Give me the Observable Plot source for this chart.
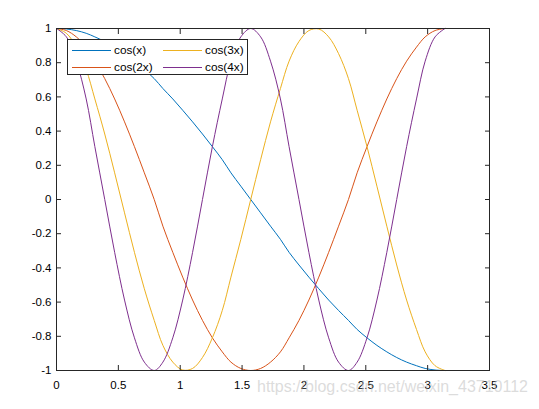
<!DOCTYPE html>
<html>
<head>
<meta charset="utf-8">
<script src="https://cdn.jsdelivr.net/npm/d3@7"></script>
<script src="https://cdn.jsdelivr.net/npm/@observablehq/plot@0.6"></script>
<style>
  html, body { margin: 0; padding: 0; background: #fff; }
  #wrap { position: relative; width: 539px; height: 409px; font-family: "Liberation Sans", Arial, sans-serif; }
  #legend { position: absolute; left: 67px; top: 39px; width: 181px; height: 36px; border: 1px solid #262626; background: #fff; box-sizing: border-box; }
  .item { position: absolute; font-size: 11.8px; color: #000; line-height: 13px; }
  .item span.sw { position: absolute; top: 6px; left: 0; width: 39px; height: 0; border-top: 1px solid; }
  .item span.lb { position: absolute; left: 42px; top: 0; white-space: nowrap; }
  #wm { position: absolute; right: 11px; top: 378px; font-size: 16px; color: rgba(190,190,190,0.55); white-space: nowrap; }
</style>
</head>
<body>
<div id="wrap"></div>
<script>
const xs = [0, 0.08, 0.16, 0.24, 0.31, 0.39, 0.47, 0.55, 0.63, 0.71, 0.79, 0.86, 0.94, 1.02, 1.10, 1.18, 1.26, 1.34, 1.41, 1.49, 1.57, 1.65, 1.73, 1.81, 1.88, 1.96, 2.04, 2.12, 2.20, 2.28, 2.36, 2.43, 2.51, 2.59, 2.67, 2.75, 2.83, 2.91, 2.98, 3.06, 3.14];
const cos1 = [1, 0.997, 0.988, 0.972, 0.951, 0.924, 0.891, 0.853, 0.809, 0.760, 0.707, 0.649, 0.588, 0.522, 0.454, 0.383, 0.309, 0.233, 0.156, 0.078, 0, -0.078, -0.156, -0.233, -0.309, -0.383, -0.454, -0.522, -0.588, -0.649, -0.707, -0.760, -0.809, -0.853, -0.891, -0.924, -0.951, -0.972, -0.988, -0.997, -1];
const cos2 = [1, 0.988, 0.951, 0.891, 0.809, 0.707, 0.588, 0.454, 0.309, 0.156, 0, -0.156, -0.309, -0.454, -0.588, -0.707, -0.809, -0.891, -0.951, -0.988, -1, -0.988, -0.951, -0.891, -0.809, -0.707, -0.588, -0.454, -0.309, -0.156, 0, 0.156, 0.309, 0.454, 0.588, 0.707, 0.809, 0.891, 0.951, 0.988, 1];
const cos3 = [1, 0.972, 0.891, 0.760, 0.588, 0.383, 0.156, -0.078, -0.309, -0.522, -0.707, -0.853, -0.951, -0.997, -0.988, -0.924, -0.809, -0.649, -0.454, -0.233, 0, 0.233, 0.454, 0.649, 0.809, 0.924, 0.988, 0.997, 0.951, 0.853, 0.707, 0.522, 0.309, 0.078, -0.156, -0.383, -0.588, -0.760, -0.891, -0.972, -1];
const cos4 = [1, 0.951, 0.809, 0.588, 0.309, 0, -0.309, -0.588, -0.809, -0.951, -1, -0.951, -0.809, -0.588, -0.309, 0, 0.309, 0.588, 0.809, 0.951, 1, 0.951, 0.809, 0.588, 0.309, 0, -0.309, -0.588, -0.809, -0.951, -1, -0.951, -0.809, -0.588, -0.309, 0, 0.309, 0.588, 0.809, 0.951, 1];
const seriesNames = ["cos(x)", "cos(2x)", "cos(3x)", "cos(4x)"];
const seriesValues = [cos1, cos2, cos3, cos4];
const colors = ["#0072BD", "#D95319", "#EDB120", "#7E2F8E"];
const xTicks = [0, 0.5, 1, 1.5, 2, 2.5, 3, 3.5];
const yTicks = [-1, -0.8, -0.6, -0.4, -0.2, 0, 0.2, 0.4, 0.6, 0.8, 1];

const data = seriesNames.flatMap((name, k) => xs.map((x, i) => ({name, x, y: seriesValues[k][i]})));
const fmt = d => String(d);
const axisColor = "#262626";

const chart = Plot.plot({
  width: 539,
  height: 409,
  marginLeft: 56,
  marginRight: 50,
  marginTop: 28,
  marginBottom: 39,
  style: {fontFamily: "'Liberation Sans', Arial, sans-serif", fontSize: "11.5px", color: "#262626", background: "#fff"},
  x: {domain: [0, 3.5], ticks: xTicks, tickFormat: fmt},
  y: {domain: [-1, 1], ticks: yTicks, tickFormat: fmt},
  color: {domain: seriesNames, range: colors},
  marks: [
    Plot.line(data, {x: "x", y: "y", z: "name", stroke: "name", strokeWidth: 1, curve: "catmull-rom"}),
    Plot.frame({stroke: axisColor, strokeWidth: 1}),
    Plot.axisX({anchor: "bottom", ticks: xTicks, tickSize: -5, tickPadding: 15, tickFormat: fmt, label: null, stroke: axisColor, fill: "#000"}),
    Plot.axisX({anchor: "top", ticks: xTicks, tickSize: -5, tickFormat: () => "", label: null, stroke: axisColor}),
    Plot.axisY({anchor: "left", ticks: yTicks, tickSize: -5, tickPadding: 10, tickFormat: fmt, label: null, stroke: axisColor, fill: "#000"}),
    Plot.axisY({anchor: "right", ticks: yTicks, tickSize: -5, tickFormat: () => "", label: null, stroke: axisColor})
  ]
});

const wrap = document.getElementById("wrap");
wrap.appendChild(chart);

const legend = document.createElement("div");
legend.id = "legend";
const pos = [[4, 4], [4, 21], [95, 4], [95, 21]];
seriesNames.forEach((name, k) => {
  const it = document.createElement("div");
  it.className = "item";
  it.style.left = pos[k][0] + "px";
  it.style.top = pos[k][1] + "px";
  it.innerHTML = `<span class="sw" style="border-color:${colors[k]}"></span><span class="lb">${name}</span>`;
  legend.appendChild(it);
});
wrap.appendChild(legend);

const wm = document.createElement("div");
wm.id = "wm";
wm.textContent = "https://blog.csdn.net/weixin_43710112";
wrap.appendChild(wm);
</script>
</body>
</html>
